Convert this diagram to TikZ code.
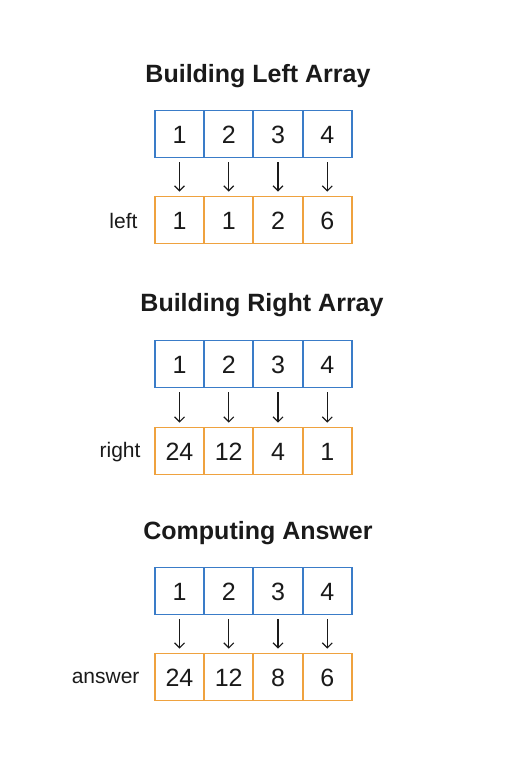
\documentclass[tikz,border=0pt]{standalone}
\usepackage{fontspec}
\setmainfont{Liberation Sans}
\usetikzlibrary{arrows.meta}
\definecolor{cblue}{HTML}{3A7CC8}
\definecolor{corange}{HTML}{EFA23F}
\definecolor{ctext}{HTML}{1A1A1A}
\begin{document}
\begin{tikzpicture}[x=1pt,y=-1pt,
  cell/.style={line width=1.9pt,minimum width=49pt,minimum height=47pt,inner sep=0pt,text=ctext,text height=18pt,text depth=0pt,font=\fontsize{25}{28}\selectfont},
  cellin/.style={cell,draw=cblue},
  cellout/.style={cell,draw=corange},
  ttl/.style={font=\bfseries\fontsize{25}{28}\selectfont,text=ctext},
  lbl/.style={anchor=east,font=\fontsize{21}{24}\selectfont,text=ctext},
  arr/.style={-{Straight Barb[length=5pt,width=10pt]},line width=1.1pt,draw=ctext}]
\useasboundingbox[fill=white] (0,0) rectangle (512,768);
% Section 1
\node[ttl] (t1) at (258,76) {Building Left Array};
\foreach \v [count=\i] in {1,2,3,4} \node[cellin] (a\i) at ({155+24.5+49.25*(\i-1)},134) {\v};
\foreach \v [count=\i] in {1,1,2,6} \node[cellout] (b\i) at ({155+24.5+49.25*(\i-1)},220) {\v};
\foreach \i in {1,...,4} \draw[arr] ([yshift=-4pt]a\i.south) -- ([yshift=4pt]b\i.north);
\node[lbl] (l1) at (141,221) {left};
% Section 2
\node[ttl] (t2) at (262,305) {Building Right Array};
\foreach \v [count=\i] in {1,2,3,4} \node[cellin] (c\i) at ({155+24.5+49.25*(\i-1)},364) {\v};
\foreach \v [count=\i] in {24,12,4,1} \node[cellout] (d\i) at ({155+24.5+49.25*(\i-1)},451) {\v};
\foreach \i in {1,...,4} \draw[arr] ([yshift=-4pt]c\i.south) -- ([yshift=4pt]d\i.north);
\node[lbl] (l2) at (144,452) {right};
% Section 3
\node[ttl] (t3) at (258,533) {Computing Answer};
\foreach \v [count=\i] in {1,2,3,4} \node[cellin] (e\i) at ({155+24.5+49.25*(\i-1)},591) {\v};
\foreach \v [count=\i] in {24,12,8,6} \node[cellout] (f\i) at ({155+24.5+49.25*(\i-1)},677) {\v};
\foreach \i in {1,...,4} \draw[arr] ([yshift=-4pt]e\i.south) -- ([yshift=4pt]f\i.north);
\node[lbl] (l3) at (143,678) {answer};
\end{tikzpicture}
\end{document}
